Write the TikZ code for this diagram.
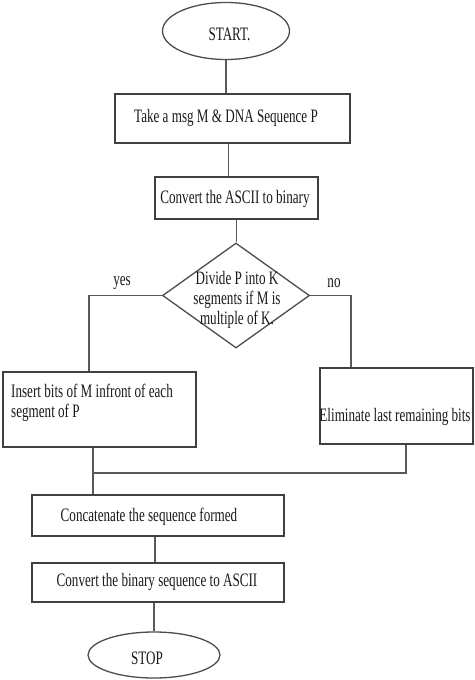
\documentclass[tikz,border=0pt]{standalone}
\usepackage{fontspec}
\setmainfont{Liberation Serif}
\usepackage{graphicx}
\usetikzlibrary{shapes.geometric}
\newcommand{\hsq}[1]{\scalebox{0.69}[1]{#1}}
\tikzset{
  ln/.style={draw=black!65, line width=1.3pt},
  boxn/.style={draw=black!75, line width=1.3pt, rectangle, inner sep=0pt},
  ovaln/.style={draw=black!70, line width=1.3pt, ellipse, inner sep=0pt},
  dian/.style={draw=black!70, line width=1.3pt, diamond, inner sep=0pt},
  txt/.style={font=\fontsize{19}{20}\selectfont, inner sep=0pt, text=black!90},
}
\begin{document}
\begin{tikzpicture}[x=1pt,y=-1pt]
\useasboundingbox (0,0) rectangle (474,680);
% shapes
\node[ovaln, minimum width=127pt, minimum height=57pt] (start) at (226,31) {};
\node[txt] (starttxt) at (229.5,34) {\hsq{START.}};
\node[boxn, minimum width=235pt, minimum height=49pt] (box1) at (232.5,118.5) {};
\node[txt] (box1txt) at (226,118) {\hsq{Take a msg M \& DNA Sequence P}};
\node[boxn, minimum width=163pt, minimum height=42pt] (box2) at (236.5,198) {};
\node[txt] (box2txt) at (235,199) {\hsq{Convert the ASCII to binary}};
\node[dian, minimum width=147pt, minimum height=105pt] (dia) at (236,295.5) {};
\node[txt] (diatxt) at (237,300) {\hsq{\begin{tabular}{@{}c@{}}Divide P into K\\ segments if M is\\ multiple of K.\end{tabular}}};
\node[boxn, minimum width=193pt, minimum height=75pt] (lbox) at (99.5,409.5) {};
\node[txt, anchor=west] (lboxtxt) at (11,403) {\hsq{\begin{tabular}{@{}l@{}}Insert bits of M infront of each\\ segment of P\end{tabular}}};
\node[boxn, minimum width=153pt, minimum height=76pt] (rbox) at (396.5,406) {};
\node[txt] (rboxtxt) at (395,417) {\hsq{Eliminate last remaining bits}};
\node[boxn, minimum width=252pt, minimum height=41pt] (cbox) at (158,515.5) {};
\node[txt] (cboxtxt) at (149,517) {\hsq{Concatenate the sequence formed}};
\node[boxn, minimum width=252pt, minimum height=39pt] (bbox) at (158,582.5) {};
\node[txt] (bboxtxt) at (157,582) {\hsq{Convert the binary sequence to ASCII}};
\node[ovaln, minimum width=132pt, minimum height=46pt] (stop) at (154,655) {};
\node[txt] (stoptxt) at (147,658) {\hsq{STOP}};
% labels
\node[txt] (yes) at (122,283) {\hsq{yes}};
\node[txt] (no) at (334,283) {\hsq{no}};
% helper coordinates
\coordinate (yc) at (89,295.5);
\coordinate (nc) at (351,295.5);
\coordinate (m1) at (93,473);
\coordinate (m2) at (406,473);
% connectors
\draw[ln] (start.south) -- (start.south |- box1.north);
\draw[ln] (box1.south) ++(-4,0) coordinate (b1s) -- (b1s |- box2.north);
\draw[ln] (box2.south) -- (box2.south |- dia.north);
\draw[ln] (dia.west) -- (yc) -- (yc |- lbox.north);
\draw[ln] (dia.east) -- (nc) -- (nc |- rbox.north);
\draw[ln] (m1 |- lbox.south) -- (m1 |- cbox.north);
\draw[ln] (m2 |- rbox.south) -- (m2) -- (m1);
\draw[ln] (cbox.south) ++(-3,0) coordinate (cs) -- (cs |- bbox.north);
\draw[ln] (stop.north) -- (stop.north |- bbox.south);
\end{tikzpicture}
\end{document}
